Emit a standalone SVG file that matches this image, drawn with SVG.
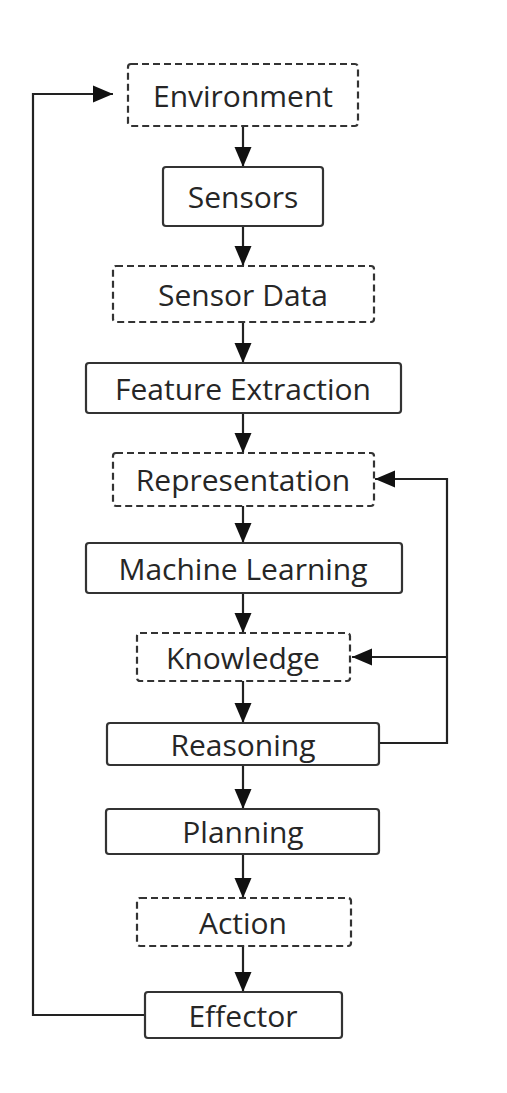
<svg xmlns="http://www.w3.org/2000/svg" width="507" height="1093" viewBox="0 0 507 1093">
<style>
.box{fill:#fff;stroke:#333;stroke-width:2.2}
.dash{stroke-dasharray:7,4}
.lbl{font-family:"Open Sans","Liberation Sans",sans-serif;font-size:30px;fill:#262626;text-anchor:middle;dominant-baseline:central}
.con{fill:none;stroke:#222;stroke-width:2.2}
</style>
<defs>
<marker id="ah" markerUnits="userSpaceOnUse" markerWidth="20" markerHeight="20" refX="20" refY="10" orient="auto">
<path d="M0,1.5 L20,10 L0,18.5 Z" fill="#111"/>
</marker>
</defs>
<rect width="507" height="1093" fill="#fff"/>
<g id="connectors">
<line class="con" x1="243" y1="126" x2="243" y2="167" marker-end="url(#ah)"/>
<line class="con" x1="243" y1="226" x2="243" y2="266" marker-end="url(#ah)"/>
<line class="con" x1="243" y1="322" x2="243" y2="363" marker-end="url(#ah)"/>
<line class="con" x1="243" y1="413" x2="243" y2="453" marker-end="url(#ah)"/>
<line class="con" x1="243" y1="506" x2="243" y2="543" marker-end="url(#ah)"/>
<line class="con" x1="243" y1="593" x2="243" y2="633" marker-end="url(#ah)"/>
<line class="con" x1="243" y1="681" x2="243" y2="723" marker-end="url(#ah)"/>
<line class="con" x1="243" y1="765" x2="243" y2="809" marker-end="url(#ah)"/>
<line class="con" x1="243" y1="854" x2="243" y2="898" marker-end="url(#ah)"/>
<line class="con" x1="243" y1="946" x2="243" y2="992" marker-end="url(#ah)"/>
<polyline class="con" points="379,743 447,743 447,479 375,479" marker-end="url(#ah)"/>
<line class="con" x1="447" y1="657" x2="352" y2="657" marker-end="url(#ah)"/>
<polyline class="con" points="145,1015 33,1015 33,94 113,94" marker-end="url(#ah)"/>
</g>
<g id="environment"><rect class="box dash" x="128" y="64" width="230" height="62" rx="3"/><text class="lbl" x="243" y="95">Environment</text></g>
<g id="sensors"><rect class="box" x="163" y="167" width="160" height="59" rx="3"/><text class="lbl" x="243" y="196">Sensors</text></g>
<g id="sensor-data"><rect class="box dash" x="113" y="266" width="261" height="56" rx="3"/><text class="lbl" x="243" y="294">Sensor Data</text></g>
<g id="feature-extraction"><rect class="box" x="86" y="363" width="315" height="50" rx="3"/><text class="lbl" x="243" y="388">Feature Extraction</text></g>
<g id="representation"><rect class="box dash" x="113" y="453" width="261" height="53" rx="3"/><text class="lbl" x="243" y="479">Representation</text></g>
<g id="machine-learning"><rect class="box" x="86" y="543" width="316" height="50" rx="3"/><text class="lbl" x="243" y="568">Machine Learning</text></g>
<g id="knowledge"><rect class="box dash" x="137" y="633" width="213" height="48" rx="3"/><text class="lbl" x="243" y="657">Knowledge</text></g>
<g id="reasoning"><rect class="box" x="107" y="723" width="272" height="42" rx="3"/><text class="lbl" x="243" y="744">Reasoning</text></g>
<g id="planning"><rect class="box" x="106" y="809" width="273" height="45" rx="3"/><text class="lbl" x="243" y="831">Planning</text></g>
<g id="action"><rect class="box dash" x="137" y="898" width="214" height="48" rx="3"/><text class="lbl" x="243" y="922">Action</text></g>
<g id="effector"><rect class="box" x="145" y="992" width="197" height="46" rx="3"/><text class="lbl" x="243" y="1015">Effector</text></g>
</svg>
